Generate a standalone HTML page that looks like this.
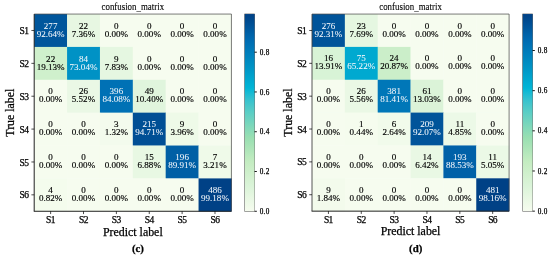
<!DOCTYPE html>
<html><head><meta charset="utf-8"><title>confusion matrix</title>
<style>html,body{margin:0;padding:0;background:#fff}svg{display:block}</style></head>
<body>
<svg width="550" height="258" viewBox="0 0 550 258" font-family="'Liberation Serif', 'Times New Roman', serif" fill="#000" style="paint-order:stroke">
<rect width="550" height="258" fill="#fff"/>
<rect x="34.20" y="14.05" width="33.17" height="33.17" fill="#00569c"/>
<rect x="67.07" y="14.05" width="33.17" height="33.17" fill="#e7f7e2"/>
<rect x="99.94" y="14.05" width="33.17" height="33.17" fill="#f6fcef"/>
<rect x="132.81" y="14.05" width="33.17" height="33.17" fill="#f6fcef"/>
<rect x="165.68" y="14.05" width="33.17" height="33.17" fill="#f6fcef"/>
<rect x="198.55" y="14.05" width="33.17" height="33.17" fill="#f6fcef"/>
<rect x="34.20" y="46.92" width="33.17" height="33.17" fill="#cff0cc"/>
<rect x="67.07" y="46.92" width="33.17" height="33.17" fill="#0092c5"/>
<rect x="99.94" y="46.92" width="33.17" height="33.17" fill="#e5f7e1"/>
<rect x="132.81" y="46.92" width="33.17" height="33.17" fill="#f6fcef"/>
<rect x="165.68" y="46.92" width="33.17" height="33.17" fill="#f6fcef"/>
<rect x="198.55" y="46.92" width="33.17" height="33.17" fill="#f6fcef"/>
<rect x="34.20" y="79.79" width="33.17" height="33.17" fill="#f6fcef"/>
<rect x="67.07" y="79.79" width="33.17" height="33.17" fill="#eaf8e5"/>
<rect x="99.94" y="79.79" width="33.17" height="33.17" fill="#0071b5"/>
<rect x="132.81" y="79.79" width="33.17" height="33.17" fill="#e0f5dd"/>
<rect x="165.68" y="79.79" width="33.17" height="33.17" fill="#f6fcef"/>
<rect x="198.55" y="79.79" width="33.17" height="33.17" fill="#f6fcef"/>
<rect x="34.20" y="112.66" width="33.17" height="33.17" fill="#f6fcef"/>
<rect x="67.07" y="112.66" width="33.17" height="33.17" fill="#f6fcef"/>
<rect x="99.94" y="112.66" width="33.17" height="33.17" fill="#f3fbed"/>
<rect x="132.81" y="112.66" width="33.17" height="33.17" fill="#004f95"/>
<rect x="165.68" y="112.66" width="33.17" height="33.17" fill="#eefae8"/>
<rect x="198.55" y="112.66" width="33.17" height="33.17" fill="#f6fcef"/>
<rect x="34.20" y="145.53" width="33.17" height="33.17" fill="#f6fcef"/>
<rect x="67.07" y="145.53" width="33.17" height="33.17" fill="#f6fcef"/>
<rect x="99.94" y="145.53" width="33.17" height="33.17" fill="#f6fcef"/>
<rect x="132.81" y="145.53" width="33.17" height="33.17" fill="#e8f8e3"/>
<rect x="165.68" y="145.53" width="33.17" height="33.17" fill="#005fa5"/>
<rect x="198.55" y="145.53" width="33.17" height="33.17" fill="#effae9"/>
<rect x="34.20" y="178.40" width="33.17" height="33.17" fill="#f4fced"/>
<rect x="67.07" y="178.40" width="33.17" height="33.17" fill="#f6fcef"/>
<rect x="99.94" y="178.40" width="33.17" height="33.17" fill="#f6fcef"/>
<rect x="132.81" y="178.40" width="33.17" height="33.17" fill="#f6fcef"/>
<rect x="165.68" y="178.40" width="33.17" height="33.17" fill="#f6fcef"/>
<rect x="198.55" y="178.40" width="33.17" height="33.17" fill="#004186"/>
<path d="M34.20 14.05H231.42V211.27" fill="none" stroke="#444" stroke-width="0.7"/>
<path d="M34.20 14.05V211.27" fill="none" stroke="#222" stroke-width="1"/>
<path d="M33.80 211.27H231.42" fill="none" stroke="#222" stroke-width="1"/>
<text x="50.64" y="28.63" fill="#f2f6fb" stroke="#f2f6fb" stroke-width="0.05" font-size="9.05" text-anchor="middle">277</text>
<text x="50.64" y="36.63" fill="#f2f6fb" stroke="#f2f6fb" stroke-width="0.05" font-size="9.05" text-anchor="middle">92.64%</text>
<text x="83.50" y="28.63" fill="#000" stroke="#000" stroke-width="0.15" font-size="9.05" text-anchor="middle">22</text>
<text x="83.50" y="36.63" fill="#000" stroke="#000" stroke-width="0.15" font-size="9.05" text-anchor="middle">7.36%</text>
<text x="116.38" y="28.63" fill="#000" stroke="#000" stroke-width="0.15" font-size="9.05" text-anchor="middle">0</text>
<text x="116.38" y="36.63" fill="#000" stroke="#000" stroke-width="0.15" font-size="9.05" text-anchor="middle">0.00%</text>
<text x="149.25" y="28.63" fill="#000" stroke="#000" stroke-width="0.15" font-size="9.05" text-anchor="middle">0</text>
<text x="149.25" y="36.63" fill="#000" stroke="#000" stroke-width="0.15" font-size="9.05" text-anchor="middle">0.00%</text>
<text x="182.12" y="28.63" fill="#000" stroke="#000" stroke-width="0.15" font-size="9.05" text-anchor="middle">0</text>
<text x="182.12" y="36.63" fill="#000" stroke="#000" stroke-width="0.15" font-size="9.05" text-anchor="middle">0.00%</text>
<text x="214.99" y="28.63" fill="#000" stroke="#000" stroke-width="0.15" font-size="9.05" text-anchor="middle">0</text>
<text x="214.99" y="36.63" fill="#000" stroke="#000" stroke-width="0.15" font-size="9.05" text-anchor="middle">0.00%</text>
<text x="50.64" y="61.50" fill="#000" stroke="#000" stroke-width="0.15" font-size="9.05" text-anchor="middle">22</text>
<text x="50.64" y="69.50" fill="#000" stroke="#000" stroke-width="0.15" font-size="9.05" text-anchor="middle">19.13%</text>
<text x="83.50" y="61.50" fill="#f2f6fb" stroke="#f2f6fb" stroke-width="0.05" font-size="9.05" text-anchor="middle">84</text>
<text x="83.50" y="69.50" fill="#f2f6fb" stroke="#f2f6fb" stroke-width="0.05" font-size="9.05" text-anchor="middle">73.04%</text>
<text x="116.38" y="61.50" fill="#000" stroke="#000" stroke-width="0.15" font-size="9.05" text-anchor="middle">9</text>
<text x="116.38" y="69.50" fill="#000" stroke="#000" stroke-width="0.15" font-size="9.05" text-anchor="middle">7.83%</text>
<text x="149.25" y="61.50" fill="#000" stroke="#000" stroke-width="0.15" font-size="9.05" text-anchor="middle">0</text>
<text x="149.25" y="69.50" fill="#000" stroke="#000" stroke-width="0.15" font-size="9.05" text-anchor="middle">0.00%</text>
<text x="182.12" y="61.50" fill="#000" stroke="#000" stroke-width="0.15" font-size="9.05" text-anchor="middle">0</text>
<text x="182.12" y="69.50" fill="#000" stroke="#000" stroke-width="0.15" font-size="9.05" text-anchor="middle">0.00%</text>
<text x="214.99" y="61.50" fill="#000" stroke="#000" stroke-width="0.15" font-size="9.05" text-anchor="middle">0</text>
<text x="214.99" y="69.50" fill="#000" stroke="#000" stroke-width="0.15" font-size="9.05" text-anchor="middle">0.00%</text>
<text x="50.64" y="94.38" fill="#000" stroke="#000" stroke-width="0.15" font-size="9.05" text-anchor="middle">0</text>
<text x="50.64" y="102.38" fill="#000" stroke="#000" stroke-width="0.15" font-size="9.05" text-anchor="middle">0.00%</text>
<text x="83.50" y="94.38" fill="#000" stroke="#000" stroke-width="0.15" font-size="9.05" text-anchor="middle">26</text>
<text x="83.50" y="102.38" fill="#000" stroke="#000" stroke-width="0.15" font-size="9.05" text-anchor="middle">5.52%</text>
<text x="116.38" y="94.38" fill="#f2f6fb" stroke="#f2f6fb" stroke-width="0.05" font-size="9.05" text-anchor="middle">396</text>
<text x="116.38" y="102.38" fill="#f2f6fb" stroke="#f2f6fb" stroke-width="0.05" font-size="9.05" text-anchor="middle">84.08%</text>
<text x="149.25" y="94.38" fill="#000" stroke="#000" stroke-width="0.15" font-size="9.05" text-anchor="middle">49</text>
<text x="149.25" y="102.38" fill="#000" stroke="#000" stroke-width="0.15" font-size="9.05" text-anchor="middle">10.40%</text>
<text x="182.12" y="94.38" fill="#000" stroke="#000" stroke-width="0.15" font-size="9.05" text-anchor="middle">0</text>
<text x="182.12" y="102.38" fill="#000" stroke="#000" stroke-width="0.15" font-size="9.05" text-anchor="middle">0.00%</text>
<text x="214.99" y="94.38" fill="#000" stroke="#000" stroke-width="0.15" font-size="9.05" text-anchor="middle">0</text>
<text x="214.99" y="102.38" fill="#000" stroke="#000" stroke-width="0.15" font-size="9.05" text-anchor="middle">0.00%</text>
<text x="50.64" y="127.25" fill="#000" stroke="#000" stroke-width="0.15" font-size="9.05" text-anchor="middle">0</text>
<text x="50.64" y="135.25" fill="#000" stroke="#000" stroke-width="0.15" font-size="9.05" text-anchor="middle">0.00%</text>
<text x="83.50" y="127.25" fill="#000" stroke="#000" stroke-width="0.15" font-size="9.05" text-anchor="middle">0</text>
<text x="83.50" y="135.25" fill="#000" stroke="#000" stroke-width="0.15" font-size="9.05" text-anchor="middle">0.00%</text>
<text x="116.38" y="127.25" fill="#000" stroke="#000" stroke-width="0.15" font-size="9.05" text-anchor="middle">3</text>
<text x="116.38" y="135.25" fill="#000" stroke="#000" stroke-width="0.15" font-size="9.05" text-anchor="middle">1.32%</text>
<text x="149.25" y="127.25" fill="#f2f6fb" stroke="#f2f6fb" stroke-width="0.05" font-size="9.05" text-anchor="middle">215</text>
<text x="149.25" y="135.25" fill="#f2f6fb" stroke="#f2f6fb" stroke-width="0.05" font-size="9.05" text-anchor="middle">94.71%</text>
<text x="182.12" y="127.25" fill="#000" stroke="#000" stroke-width="0.15" font-size="9.05" text-anchor="middle">9</text>
<text x="182.12" y="135.25" fill="#000" stroke="#000" stroke-width="0.15" font-size="9.05" text-anchor="middle">3.96%</text>
<text x="214.99" y="127.25" fill="#000" stroke="#000" stroke-width="0.15" font-size="9.05" text-anchor="middle">0</text>
<text x="214.99" y="135.25" fill="#000" stroke="#000" stroke-width="0.15" font-size="9.05" text-anchor="middle">0.00%</text>
<text x="50.64" y="160.12" fill="#000" stroke="#000" stroke-width="0.15" font-size="9.05" text-anchor="middle">0</text>
<text x="50.64" y="168.12" fill="#000" stroke="#000" stroke-width="0.15" font-size="9.05" text-anchor="middle">0.00%</text>
<text x="83.50" y="160.12" fill="#000" stroke="#000" stroke-width="0.15" font-size="9.05" text-anchor="middle">0</text>
<text x="83.50" y="168.12" fill="#000" stroke="#000" stroke-width="0.15" font-size="9.05" text-anchor="middle">0.00%</text>
<text x="116.38" y="160.12" fill="#000" stroke="#000" stroke-width="0.15" font-size="9.05" text-anchor="middle">0</text>
<text x="116.38" y="168.12" fill="#000" stroke="#000" stroke-width="0.15" font-size="9.05" text-anchor="middle">0.00%</text>
<text x="149.25" y="160.12" fill="#000" stroke="#000" stroke-width="0.15" font-size="9.05" text-anchor="middle">15</text>
<text x="149.25" y="168.12" fill="#000" stroke="#000" stroke-width="0.15" font-size="9.05" text-anchor="middle">6.88%</text>
<text x="182.12" y="160.12" fill="#f2f6fb" stroke="#f2f6fb" stroke-width="0.05" font-size="9.05" text-anchor="middle">196</text>
<text x="182.12" y="168.12" fill="#f2f6fb" stroke="#f2f6fb" stroke-width="0.05" font-size="9.05" text-anchor="middle">89.91%</text>
<text x="214.99" y="160.12" fill="#000" stroke="#000" stroke-width="0.15" font-size="9.05" text-anchor="middle">7</text>
<text x="214.99" y="168.12" fill="#000" stroke="#000" stroke-width="0.15" font-size="9.05" text-anchor="middle">3.21%</text>
<text x="50.64" y="192.99" fill="#000" stroke="#000" stroke-width="0.15" font-size="9.05" text-anchor="middle">4</text>
<text x="50.64" y="200.99" fill="#000" stroke="#000" stroke-width="0.15" font-size="9.05" text-anchor="middle">0.82%</text>
<text x="83.50" y="192.99" fill="#000" stroke="#000" stroke-width="0.15" font-size="9.05" text-anchor="middle">0</text>
<text x="83.50" y="200.99" fill="#000" stroke="#000" stroke-width="0.15" font-size="9.05" text-anchor="middle">0.00%</text>
<text x="116.38" y="192.99" fill="#000" stroke="#000" stroke-width="0.15" font-size="9.05" text-anchor="middle">0</text>
<text x="116.38" y="200.99" fill="#000" stroke="#000" stroke-width="0.15" font-size="9.05" text-anchor="middle">0.00%</text>
<text x="149.25" y="192.99" fill="#000" stroke="#000" stroke-width="0.15" font-size="9.05" text-anchor="middle">0</text>
<text x="149.25" y="200.99" fill="#000" stroke="#000" stroke-width="0.15" font-size="9.05" text-anchor="middle">0.00%</text>
<text x="182.12" y="192.99" fill="#000" stroke="#000" stroke-width="0.15" font-size="9.05" text-anchor="middle">0</text>
<text x="182.12" y="200.99" fill="#000" stroke="#000" stroke-width="0.15" font-size="9.05" text-anchor="middle">0.00%</text>
<text x="214.99" y="192.99" fill="#f2f6fb" stroke="#f2f6fb" stroke-width="0.05" font-size="9.05" text-anchor="middle">486</text>
<text x="214.99" y="200.99" fill="#f2f6fb" stroke="#f2f6fb" stroke-width="0.05" font-size="9.05" text-anchor="middle">99.18%</text>
<line x1="50.64" y1="211.27" x2="50.64" y2="214.07" stroke="#000" stroke-width="0.7"/>
<line x1="31.40" y1="30.48" x2="34.20" y2="30.48" stroke="#000" stroke-width="0.7"/>
<text stroke="#000" stroke-width="0.25" x="50.54" y="222.97" font-size="9.5" letter-spacing="-0.6" text-anchor="middle">S1</text>
<text stroke="#000" stroke-width="0.25" x="28.30" y="34.09" font-size="9.5" letter-spacing="-0.6" text-anchor="end">S1</text>
<line x1="83.50" y1="211.27" x2="83.50" y2="214.07" stroke="#000" stroke-width="0.7"/>
<line x1="31.40" y1="63.35" x2="34.20" y2="63.35" stroke="#000" stroke-width="0.7"/>
<text stroke="#000" stroke-width="0.25" x="83.41" y="222.97" font-size="9.5" letter-spacing="-0.6" text-anchor="middle">S2</text>
<text stroke="#000" stroke-width="0.25" x="28.30" y="66.95" font-size="9.5" letter-spacing="-0.6" text-anchor="end">S2</text>
<line x1="116.38" y1="211.27" x2="116.38" y2="214.07" stroke="#000" stroke-width="0.7"/>
<line x1="31.40" y1="96.22" x2="34.20" y2="96.22" stroke="#000" stroke-width="0.7"/>
<text stroke="#000" stroke-width="0.25" x="116.28" y="222.97" font-size="9.5" letter-spacing="-0.6" text-anchor="middle">S3</text>
<text stroke="#000" stroke-width="0.25" x="28.30" y="99.82" font-size="9.5" letter-spacing="-0.6" text-anchor="end">S3</text>
<line x1="149.25" y1="211.27" x2="149.25" y2="214.07" stroke="#000" stroke-width="0.7"/>
<line x1="31.40" y1="129.09" x2="34.20" y2="129.09" stroke="#000" stroke-width="0.7"/>
<text stroke="#000" stroke-width="0.25" x="149.15" y="222.97" font-size="9.5" letter-spacing="-0.6" text-anchor="middle">S4</text>
<text stroke="#000" stroke-width="0.25" x="28.30" y="132.69" font-size="9.5" letter-spacing="-0.6" text-anchor="end">S4</text>
<line x1="182.12" y1="211.27" x2="182.12" y2="214.07" stroke="#000" stroke-width="0.7"/>
<line x1="31.40" y1="161.97" x2="34.20" y2="161.97" stroke="#000" stroke-width="0.7"/>
<text stroke="#000" stroke-width="0.25" x="182.02" y="222.97" font-size="9.5" letter-spacing="-0.6" text-anchor="middle">S5</text>
<text stroke="#000" stroke-width="0.25" x="28.30" y="165.56" font-size="9.5" letter-spacing="-0.6" text-anchor="end">S5</text>
<line x1="214.99" y1="211.27" x2="214.99" y2="214.07" stroke="#000" stroke-width="0.7"/>
<line x1="31.40" y1="194.84" x2="34.20" y2="194.84" stroke="#000" stroke-width="0.7"/>
<text stroke="#000" stroke-width="0.25" x="214.89" y="222.97" font-size="9.5" letter-spacing="-0.6" text-anchor="middle">S6</text>
<text stroke="#000" stroke-width="0.25" x="28.30" y="198.44" font-size="9.5" letter-spacing="-0.6" text-anchor="end">S6</text>
<text stroke="#000" stroke-width="0.25" x="132.81" y="235.57" font-size="11.9" text-anchor="middle">Predict label</text>
<text stroke="#000" stroke-width="0.25" transform="translate(13.90,112.66) rotate(-90)" font-size="11.9" text-anchor="middle">True label</text>
<text stroke="#000" stroke-width="0.1" x="101.51" y="9.60" font-size="9.9" textLength="62.6" lengthAdjust="spacingAndGlyphs">confusion_matrix</text>
<text stroke="#000" stroke-width="0.25" x="137.91" y="251.77" font-size="10.8" font-weight="bold" text-anchor="middle">(c)</text>
<defs><linearGradient id="g0" x1="0" y1="0" x2="0" y2="1"><stop offset="0.0000" stop-color="#004186"/><stop offset="0.0312" stop-color="#004a8f"/><stop offset="0.0625" stop-color="#00549a"/><stop offset="0.0938" stop-color="#005fa5"/><stop offset="0.1250" stop-color="#0069b0"/><stop offset="0.1562" stop-color="#0072b5"/><stop offset="0.1875" stop-color="#007bba"/><stop offset="0.2188" stop-color="#0084be"/><stop offset="0.2500" stop-color="#008ec2"/><stop offset="0.2812" stop-color="#0097c7"/><stop offset="0.3125" stop-color="#00a1cc"/><stop offset="0.3438" stop-color="#00abd1"/><stop offset="0.3750" stop-color="#00b5d6"/><stop offset="0.4062" stop-color="#1dbcd3"/><stop offset="0.4375" stop-color="#37c2ce"/><stop offset="0.4688" stop-color="#4ac8c9"/><stop offset="0.5000" stop-color="#5bcec5"/><stop offset="0.5312" stop-color="#6bd2c0"/><stop offset="0.5625" stop-color="#7bd7bb"/><stop offset="0.5938" stop-color="#8adbb7"/><stop offset="0.6250" stop-color="#98dfb2"/><stop offset="0.6562" stop-color="#a3e2b5"/><stop offset="0.6875" stop-color="#aee5b9"/><stop offset="0.7188" stop-color="#b9e9bd"/><stop offset="0.7500" stop-color="#c4ecc1"/><stop offset="0.7812" stop-color="#caeec7"/><stop offset="0.8125" stop-color="#d0f0cd"/><stop offset="0.8438" stop-color="#d6f2d3"/><stop offset="0.8750" stop-color="#dbf4d9"/><stop offset="0.9062" stop-color="#e2f6de"/><stop offset="0.9375" stop-color="#e9f8e4"/><stop offset="0.9688" stop-color="#effae9"/><stop offset="1.0000" stop-color="#f6fcef"/></linearGradient></defs>
<rect x="244.80" y="14.05" width="9.75" height="197.22" fill="url(#g0)" stroke="#333" stroke-width="0.7"/>
<line x1="254.55" y1="211.27" x2="256.85" y2="211.27" stroke="#000" stroke-width="0.9"/>
<text stroke="#000" stroke-width="0.25" x="259.75" y="213.87" font-size="7.2" letter-spacing="0.25">0.0</text>
<line x1="254.55" y1="171.50" x2="256.85" y2="171.50" stroke="#000" stroke-width="0.9"/>
<text stroke="#000" stroke-width="0.25" x="259.75" y="174.10" font-size="7.2" letter-spacing="0.25">0.2</text>
<line x1="254.55" y1="131.73" x2="256.85" y2="131.73" stroke="#000" stroke-width="0.9"/>
<text stroke="#000" stroke-width="0.25" x="259.75" y="134.33" font-size="7.2" letter-spacing="0.25">0.4</text>
<line x1="254.55" y1="91.96" x2="256.85" y2="91.96" stroke="#000" stroke-width="0.9"/>
<text stroke="#000" stroke-width="0.25" x="259.75" y="94.56" font-size="7.2" letter-spacing="0.25">0.6</text>
<line x1="254.55" y1="52.19" x2="256.85" y2="52.19" stroke="#000" stroke-width="0.9"/>
<text stroke="#000" stroke-width="0.25" x="259.75" y="54.79" font-size="7.2" letter-spacing="0.25">0.8</text>
<rect x="312.00" y="14.05" width="33.15" height="33.15" fill="#00549a"/>
<rect x="344.85" y="14.05" width="33.15" height="33.15" fill="#e5f7e1"/>
<rect x="377.70" y="14.05" width="33.15" height="33.15" fill="#f6fcef"/>
<rect x="410.55" y="14.05" width="33.15" height="33.15" fill="#f6fcef"/>
<rect x="443.40" y="14.05" width="33.15" height="33.15" fill="#f6fcef"/>
<rect x="476.25" y="14.05" width="33.15" height="33.15" fill="#f6fcef"/>
<rect x="312.00" y="46.90" width="33.15" height="33.15" fill="#d8f3d6"/>
<rect x="344.85" y="46.90" width="33.15" height="33.15" fill="#00a9d0"/>
<rect x="377.70" y="46.90" width="33.15" height="33.15" fill="#cbeec9"/>
<rect x="410.55" y="46.90" width="33.15" height="33.15" fill="#f6fcef"/>
<rect x="443.40" y="46.90" width="33.15" height="33.15" fill="#f6fcef"/>
<rect x="476.25" y="46.90" width="33.15" height="33.15" fill="#f6fcef"/>
<rect x="312.00" y="79.75" width="33.15" height="33.15" fill="#f6fcef"/>
<rect x="344.85" y="79.75" width="33.15" height="33.15" fill="#eaf8e5"/>
<rect x="377.70" y="79.75" width="33.15" height="33.15" fill="#0077b8"/>
<rect x="410.55" y="79.75" width="33.15" height="33.15" fill="#dbf3d8"/>
<rect x="443.40" y="79.75" width="33.15" height="33.15" fill="#f6fcef"/>
<rect x="476.25" y="79.75" width="33.15" height="33.15" fill="#f6fcef"/>
<rect x="312.00" y="112.60" width="33.15" height="33.15" fill="#f6fcef"/>
<rect x="344.85" y="112.60" width="33.15" height="33.15" fill="#f5fcee"/>
<rect x="377.70" y="112.60" width="33.15" height="33.15" fill="#f1fbeb"/>
<rect x="410.55" y="112.60" width="33.15" height="33.15" fill="#00549a"/>
<rect x="443.40" y="112.60" width="33.15" height="33.15" fill="#ecf9e7"/>
<rect x="476.25" y="112.60" width="33.15" height="33.15" fill="#f6fcef"/>
<rect x="312.00" y="145.45" width="33.15" height="33.15" fill="#f6fcef"/>
<rect x="344.85" y="145.45" width="33.15" height="33.15" fill="#f6fcef"/>
<rect x="377.70" y="145.45" width="33.15" height="33.15" fill="#f6fcef"/>
<rect x="410.55" y="145.45" width="33.15" height="33.15" fill="#e9f8e4"/>
<rect x="443.40" y="145.45" width="33.15" height="33.15" fill="#0061a8"/>
<rect x="476.25" y="145.45" width="33.15" height="33.15" fill="#ebf9e6"/>
<rect x="312.00" y="178.30" width="33.15" height="33.15" fill="#f3fbec"/>
<rect x="344.85" y="178.30" width="33.15" height="33.15" fill="#f6fcef"/>
<rect x="377.70" y="178.30" width="33.15" height="33.15" fill="#f6fcef"/>
<rect x="410.55" y="178.30" width="33.15" height="33.15" fill="#f6fcef"/>
<rect x="443.40" y="178.30" width="33.15" height="33.15" fill="#f6fcef"/>
<rect x="476.25" y="178.30" width="33.15" height="33.15" fill="#004186"/>
<path d="M312.00 14.05H509.10V211.15" fill="none" stroke="#444" stroke-width="0.7"/>
<path d="M312.00 14.05V211.15" fill="none" stroke="#444" stroke-width="0.9"/>
<path d="M311.60 211.15H509.10" fill="none" stroke="#222" stroke-width="1"/>
<text x="328.43" y="28.62" fill="#f2f6fb" stroke="#f2f6fb" stroke-width="0.05" font-size="9.05" text-anchor="middle">276</text>
<text x="328.43" y="36.62" fill="#f2f6fb" stroke="#f2f6fb" stroke-width="0.05" font-size="9.05" text-anchor="middle">92.31%</text>
<text x="361.27" y="28.62" fill="#000" stroke="#000" stroke-width="0.15" font-size="9.05" text-anchor="middle">23</text>
<text x="361.27" y="36.62" fill="#000" stroke="#000" stroke-width="0.15" font-size="9.05" text-anchor="middle">7.69%</text>
<text x="394.12" y="28.62" fill="#000" stroke="#000" stroke-width="0.15" font-size="9.05" text-anchor="middle">0</text>
<text x="394.12" y="36.62" fill="#000" stroke="#000" stroke-width="0.15" font-size="9.05" text-anchor="middle">0.00%</text>
<text x="426.98" y="28.62" fill="#000" stroke="#000" stroke-width="0.15" font-size="9.05" text-anchor="middle">0</text>
<text x="426.98" y="36.62" fill="#000" stroke="#000" stroke-width="0.15" font-size="9.05" text-anchor="middle">0.00%</text>
<text x="459.83" y="28.62" fill="#000" stroke="#000" stroke-width="0.15" font-size="9.05" text-anchor="middle">0</text>
<text x="459.83" y="36.62" fill="#000" stroke="#000" stroke-width="0.15" font-size="9.05" text-anchor="middle">0.00%</text>
<text x="492.68" y="28.62" fill="#000" stroke="#000" stroke-width="0.15" font-size="9.05" text-anchor="middle">0</text>
<text x="492.68" y="36.62" fill="#000" stroke="#000" stroke-width="0.15" font-size="9.05" text-anchor="middle">0.00%</text>
<text x="328.43" y="61.48" fill="#000" stroke="#000" stroke-width="0.15" font-size="9.05" text-anchor="middle">16</text>
<text x="328.43" y="69.48" fill="#000" stroke="#000" stroke-width="0.15" font-size="9.05" text-anchor="middle">13.91%</text>
<text x="361.27" y="61.48" fill="#f2f6fb" stroke="#f2f6fb" stroke-width="0.05" font-size="9.05" text-anchor="middle">75</text>
<text x="361.27" y="69.48" fill="#f2f6fb" stroke="#f2f6fb" stroke-width="0.05" font-size="9.05" text-anchor="middle">65.22%</text>
<text x="394.12" y="61.48" fill="#000" stroke="#000" stroke-width="0.15" font-size="9.05" text-anchor="middle">24</text>
<text x="394.12" y="69.48" fill="#000" stroke="#000" stroke-width="0.15" font-size="9.05" text-anchor="middle">20.87%</text>
<text x="426.98" y="61.48" fill="#000" stroke="#000" stroke-width="0.15" font-size="9.05" text-anchor="middle">0</text>
<text x="426.98" y="69.48" fill="#000" stroke="#000" stroke-width="0.15" font-size="9.05" text-anchor="middle">0.00%</text>
<text x="459.83" y="61.48" fill="#000" stroke="#000" stroke-width="0.15" font-size="9.05" text-anchor="middle">0</text>
<text x="459.83" y="69.48" fill="#000" stroke="#000" stroke-width="0.15" font-size="9.05" text-anchor="middle">0.00%</text>
<text x="492.68" y="61.48" fill="#000" stroke="#000" stroke-width="0.15" font-size="9.05" text-anchor="middle">0</text>
<text x="492.68" y="69.48" fill="#000" stroke="#000" stroke-width="0.15" font-size="9.05" text-anchor="middle">0.00%</text>
<text x="328.43" y="94.33" fill="#000" stroke="#000" stroke-width="0.15" font-size="9.05" text-anchor="middle">0</text>
<text x="328.43" y="102.33" fill="#000" stroke="#000" stroke-width="0.15" font-size="9.05" text-anchor="middle">0.00%</text>
<text x="361.27" y="94.33" fill="#000" stroke="#000" stroke-width="0.15" font-size="9.05" text-anchor="middle">26</text>
<text x="361.27" y="102.33" fill="#000" stroke="#000" stroke-width="0.15" font-size="9.05" text-anchor="middle">5.56%</text>
<text x="394.12" y="94.33" fill="#f2f6fb" stroke="#f2f6fb" stroke-width="0.05" font-size="9.05" text-anchor="middle">381</text>
<text x="394.12" y="102.33" fill="#f2f6fb" stroke="#f2f6fb" stroke-width="0.05" font-size="9.05" text-anchor="middle">81.41%</text>
<text x="426.98" y="94.33" fill="#000" stroke="#000" stroke-width="0.15" font-size="9.05" text-anchor="middle">61</text>
<text x="426.98" y="102.33" fill="#000" stroke="#000" stroke-width="0.15" font-size="9.05" text-anchor="middle">13.03%</text>
<text x="459.83" y="94.33" fill="#000" stroke="#000" stroke-width="0.15" font-size="9.05" text-anchor="middle">0</text>
<text x="459.83" y="102.33" fill="#000" stroke="#000" stroke-width="0.15" font-size="9.05" text-anchor="middle">0.00%</text>
<text x="492.68" y="94.33" fill="#000" stroke="#000" stroke-width="0.15" font-size="9.05" text-anchor="middle">0</text>
<text x="492.68" y="102.33" fill="#000" stroke="#000" stroke-width="0.15" font-size="9.05" text-anchor="middle">0.00%</text>
<text x="328.43" y="127.18" fill="#000" stroke="#000" stroke-width="0.15" font-size="9.05" text-anchor="middle">0</text>
<text x="328.43" y="135.18" fill="#000" stroke="#000" stroke-width="0.15" font-size="9.05" text-anchor="middle">0.00%</text>
<text x="361.27" y="127.18" fill="#000" stroke="#000" stroke-width="0.15" font-size="9.05" text-anchor="middle">1</text>
<text x="361.27" y="135.18" fill="#000" stroke="#000" stroke-width="0.15" font-size="9.05" text-anchor="middle">0.44%</text>
<text x="394.12" y="127.18" fill="#000" stroke="#000" stroke-width="0.15" font-size="9.05" text-anchor="middle">6</text>
<text x="394.12" y="135.18" fill="#000" stroke="#000" stroke-width="0.15" font-size="9.05" text-anchor="middle">2.64%</text>
<text x="426.98" y="127.18" fill="#f2f6fb" stroke="#f2f6fb" stroke-width="0.05" font-size="9.05" text-anchor="middle">209</text>
<text x="426.98" y="135.18" fill="#f2f6fb" stroke="#f2f6fb" stroke-width="0.05" font-size="9.05" text-anchor="middle">92.07%</text>
<text x="459.83" y="127.18" fill="#000" stroke="#000" stroke-width="0.15" font-size="9.05" text-anchor="middle">11</text>
<text x="459.83" y="135.18" fill="#000" stroke="#000" stroke-width="0.15" font-size="9.05" text-anchor="middle">4.85%</text>
<text x="492.68" y="127.18" fill="#000" stroke="#000" stroke-width="0.15" font-size="9.05" text-anchor="middle">0</text>
<text x="492.68" y="135.18" fill="#000" stroke="#000" stroke-width="0.15" font-size="9.05" text-anchor="middle">0.00%</text>
<text x="328.43" y="160.03" fill="#000" stroke="#000" stroke-width="0.15" font-size="9.05" text-anchor="middle">0</text>
<text x="328.43" y="168.03" fill="#000" stroke="#000" stroke-width="0.15" font-size="9.05" text-anchor="middle">0.00%</text>
<text x="361.27" y="160.03" fill="#000" stroke="#000" stroke-width="0.15" font-size="9.05" text-anchor="middle">0</text>
<text x="361.27" y="168.03" fill="#000" stroke="#000" stroke-width="0.15" font-size="9.05" text-anchor="middle">0.00%</text>
<text x="394.12" y="160.03" fill="#000" stroke="#000" stroke-width="0.15" font-size="9.05" text-anchor="middle">0</text>
<text x="394.12" y="168.03" fill="#000" stroke="#000" stroke-width="0.15" font-size="9.05" text-anchor="middle">0.00%</text>
<text x="426.98" y="160.03" fill="#000" stroke="#000" stroke-width="0.15" font-size="9.05" text-anchor="middle">14</text>
<text x="426.98" y="168.03" fill="#000" stroke="#000" stroke-width="0.15" font-size="9.05" text-anchor="middle">6.42%</text>
<text x="459.83" y="160.03" fill="#f2f6fb" stroke="#f2f6fb" stroke-width="0.05" font-size="9.05" text-anchor="middle">193</text>
<text x="459.83" y="168.03" fill="#f2f6fb" stroke="#f2f6fb" stroke-width="0.05" font-size="9.05" text-anchor="middle">88.53%</text>
<text x="492.68" y="160.03" fill="#000" stroke="#000" stroke-width="0.15" font-size="9.05" text-anchor="middle">11</text>
<text x="492.68" y="168.03" fill="#000" stroke="#000" stroke-width="0.15" font-size="9.05" text-anchor="middle">5.05%</text>
<text x="328.43" y="192.88" fill="#000" stroke="#000" stroke-width="0.15" font-size="9.05" text-anchor="middle">9</text>
<text x="328.43" y="200.88" fill="#000" stroke="#000" stroke-width="0.15" font-size="9.05" text-anchor="middle">1.84%</text>
<text x="361.27" y="192.88" fill="#000" stroke="#000" stroke-width="0.15" font-size="9.05" text-anchor="middle">0</text>
<text x="361.27" y="200.88" fill="#000" stroke="#000" stroke-width="0.15" font-size="9.05" text-anchor="middle">0.00%</text>
<text x="394.12" y="192.88" fill="#000" stroke="#000" stroke-width="0.15" font-size="9.05" text-anchor="middle">0</text>
<text x="394.12" y="200.88" fill="#000" stroke="#000" stroke-width="0.15" font-size="9.05" text-anchor="middle">0.00%</text>
<text x="426.98" y="192.88" fill="#000" stroke="#000" stroke-width="0.15" font-size="9.05" text-anchor="middle">0</text>
<text x="426.98" y="200.88" fill="#000" stroke="#000" stroke-width="0.15" font-size="9.05" text-anchor="middle">0.00%</text>
<text x="459.83" y="192.88" fill="#000" stroke="#000" stroke-width="0.15" font-size="9.05" text-anchor="middle">0</text>
<text x="459.83" y="200.88" fill="#000" stroke="#000" stroke-width="0.15" font-size="9.05" text-anchor="middle">0.00%</text>
<text x="492.68" y="192.88" fill="#f2f6fb" stroke="#f2f6fb" stroke-width="0.05" font-size="9.05" text-anchor="middle">481</text>
<text x="492.68" y="200.88" fill="#f2f6fb" stroke="#f2f6fb" stroke-width="0.05" font-size="9.05" text-anchor="middle">98.16%</text>
<line x1="328.43" y1="211.15" x2="328.43" y2="213.95" stroke="#000" stroke-width="0.7"/>
<line x1="309.20" y1="30.48" x2="312.00" y2="30.48" stroke="#000" stroke-width="0.7"/>
<text stroke="#000" stroke-width="0.25" x="328.32" y="222.85" font-size="9.5" letter-spacing="-0.6" text-anchor="middle">S1</text>
<text stroke="#000" stroke-width="0.25" x="306.10" y="34.08" font-size="9.5" letter-spacing="-0.6" text-anchor="end">S1</text>
<line x1="361.27" y1="211.15" x2="361.27" y2="213.95" stroke="#000" stroke-width="0.7"/>
<line x1="309.20" y1="63.33" x2="312.00" y2="63.33" stroke="#000" stroke-width="0.7"/>
<text stroke="#000" stroke-width="0.25" x="361.17" y="222.85" font-size="9.5" letter-spacing="-0.6" text-anchor="middle">S2</text>
<text stroke="#000" stroke-width="0.25" x="306.10" y="66.92" font-size="9.5" letter-spacing="-0.6" text-anchor="end">S2</text>
<line x1="394.12" y1="211.15" x2="394.12" y2="213.95" stroke="#000" stroke-width="0.7"/>
<line x1="309.20" y1="96.17" x2="312.00" y2="96.17" stroke="#000" stroke-width="0.7"/>
<text stroke="#000" stroke-width="0.25" x="394.02" y="222.85" font-size="9.5" letter-spacing="-0.6" text-anchor="middle">S3</text>
<text stroke="#000" stroke-width="0.25" x="306.10" y="99.77" font-size="9.5" letter-spacing="-0.6" text-anchor="end">S3</text>
<line x1="426.98" y1="211.15" x2="426.98" y2="213.95" stroke="#000" stroke-width="0.7"/>
<line x1="309.20" y1="129.03" x2="312.00" y2="129.03" stroke="#000" stroke-width="0.7"/>
<text stroke="#000" stroke-width="0.25" x="426.88" y="222.85" font-size="9.5" letter-spacing="-0.6" text-anchor="middle">S4</text>
<text stroke="#000" stroke-width="0.25" x="306.10" y="132.62" font-size="9.5" letter-spacing="-0.6" text-anchor="end">S4</text>
<line x1="459.83" y1="211.15" x2="459.83" y2="213.95" stroke="#000" stroke-width="0.7"/>
<line x1="309.20" y1="161.88" x2="312.00" y2="161.88" stroke="#000" stroke-width="0.7"/>
<text stroke="#000" stroke-width="0.25" x="459.73" y="222.85" font-size="9.5" letter-spacing="-0.6" text-anchor="middle">S5</text>
<text stroke="#000" stroke-width="0.25" x="306.10" y="165.48" font-size="9.5" letter-spacing="-0.6" text-anchor="end">S5</text>
<line x1="492.68" y1="211.15" x2="492.68" y2="213.95" stroke="#000" stroke-width="0.7"/>
<line x1="309.20" y1="194.73" x2="312.00" y2="194.73" stroke="#000" stroke-width="0.7"/>
<text stroke="#000" stroke-width="0.25" x="492.57" y="222.85" font-size="9.5" letter-spacing="-0.6" text-anchor="middle">S6</text>
<text stroke="#000" stroke-width="0.25" x="306.10" y="198.33" font-size="9.5" letter-spacing="-0.6" text-anchor="end">S6</text>
<text stroke="#000" stroke-width="0.25" x="410.55" y="235.45" font-size="11.9" text-anchor="middle">Predict label</text>
<text stroke="#000" stroke-width="0.25" transform="translate(291.70,112.60) rotate(-90)" font-size="11.9" text-anchor="middle">True label</text>
<text stroke="#000" stroke-width="0.1" x="379.25" y="9.60" font-size="9.9" textLength="62.6" lengthAdjust="spacingAndGlyphs">confusion_matrix</text>
<text stroke="#000" stroke-width="0.25" x="415.65" y="251.65" font-size="10.8" font-weight="bold" text-anchor="middle">(d)</text>
<defs><linearGradient id="g1" x1="0" y1="0" x2="0" y2="1"><stop offset="0.0000" stop-color="#004186"/><stop offset="0.0312" stop-color="#004a8f"/><stop offset="0.0625" stop-color="#00549a"/><stop offset="0.0938" stop-color="#005fa5"/><stop offset="0.1250" stop-color="#0069b0"/><stop offset="0.1562" stop-color="#0072b5"/><stop offset="0.1875" stop-color="#007bba"/><stop offset="0.2188" stop-color="#0084be"/><stop offset="0.2500" stop-color="#008ec2"/><stop offset="0.2812" stop-color="#0097c7"/><stop offset="0.3125" stop-color="#00a1cc"/><stop offset="0.3438" stop-color="#00abd1"/><stop offset="0.3750" stop-color="#00b5d6"/><stop offset="0.4062" stop-color="#1dbcd3"/><stop offset="0.4375" stop-color="#37c2ce"/><stop offset="0.4688" stop-color="#4ac8c9"/><stop offset="0.5000" stop-color="#5bcec5"/><stop offset="0.5312" stop-color="#6bd2c0"/><stop offset="0.5625" stop-color="#7bd7bb"/><stop offset="0.5938" stop-color="#8adbb7"/><stop offset="0.6250" stop-color="#98dfb2"/><stop offset="0.6562" stop-color="#a3e2b5"/><stop offset="0.6875" stop-color="#aee5b9"/><stop offset="0.7188" stop-color="#b9e9bd"/><stop offset="0.7500" stop-color="#c4ecc1"/><stop offset="0.7812" stop-color="#caeec7"/><stop offset="0.8125" stop-color="#d0f0cd"/><stop offset="0.8438" stop-color="#d6f2d3"/><stop offset="0.8750" stop-color="#dbf4d9"/><stop offset="0.9062" stop-color="#e2f6de"/><stop offset="0.9375" stop-color="#e9f8e4"/><stop offset="0.9688" stop-color="#effae9"/><stop offset="1.0000" stop-color="#f6fcef"/></linearGradient></defs>
<rect x="522.80" y="14.05" width="9.75" height="197.10" fill="url(#g1)" stroke="#333" stroke-width="0.7"/>
<line x1="532.55" y1="211.15" x2="534.85" y2="211.15" stroke="#000" stroke-width="0.9"/>
<text stroke="#000" stroke-width="0.25" x="537.75" y="213.75" font-size="7.2" letter-spacing="0.25">0.0</text>
<line x1="532.55" y1="170.99" x2="534.85" y2="170.99" stroke="#000" stroke-width="0.9"/>
<text stroke="#000" stroke-width="0.25" x="537.75" y="173.59" font-size="7.2" letter-spacing="0.25">0.2</text>
<line x1="532.55" y1="130.83" x2="534.85" y2="130.83" stroke="#000" stroke-width="0.9"/>
<text stroke="#000" stroke-width="0.25" x="537.75" y="133.43" font-size="7.2" letter-spacing="0.25">0.4</text>
<line x1="532.55" y1="90.67" x2="534.85" y2="90.67" stroke="#000" stroke-width="0.9"/>
<text stroke="#000" stroke-width="0.25" x="537.75" y="93.27" font-size="7.2" letter-spacing="0.25">0.6</text>
<line x1="532.55" y1="50.51" x2="534.85" y2="50.51" stroke="#000" stroke-width="0.9"/>
<text stroke="#000" stroke-width="0.25" x="537.75" y="53.11" font-size="7.2" letter-spacing="0.25">0.8</text>
</svg>
</body></html>
